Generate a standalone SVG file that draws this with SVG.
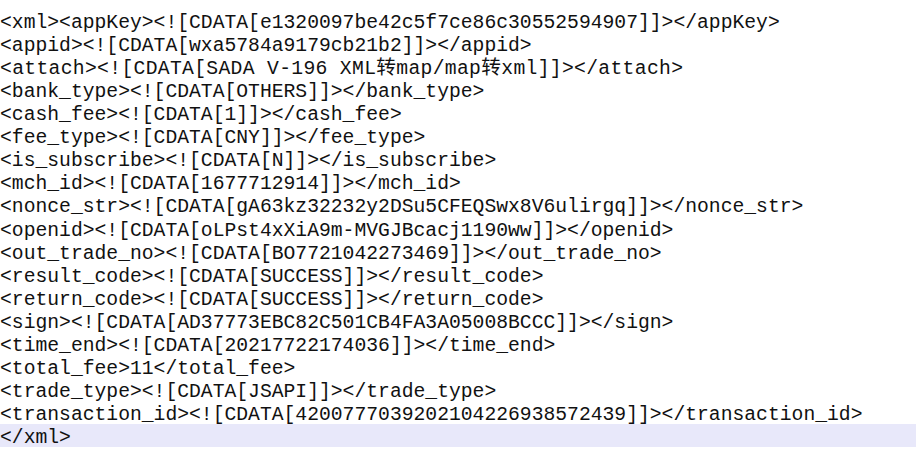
<svg xmlns="http://www.w3.org/2000/svg" width="916" height="462" viewBox="0 0 916 462">
<style>
text{font-family:"Liberation Mono","Noto Sans CJK SC",monospace;font-size:19.7px;fill:#111;white-space:pre}
</style>
<rect width="916" height="462" fill="#fff"/>
<rect x="0" y="424" width="916" height="23" fill="#e8e8fa"/>
<text x="0" y="28">&lt;xml&gt;&lt;appKey&gt;&lt;![CDATA[e1320097be42c5f7ce86c30552594907]]&gt;&lt;/appKey&gt;</text>
<text x="0" y="51.06">&lt;appid&gt;&lt;![CDATA[wxa5784a9179cb21b2]]&gt;&lt;/appid&gt;</text>
<text x="0" y="74.12" textLength="683" lengthAdjust="spacing">&lt;attach&gt;&lt;![CDATA[SADA V-196 XML转map/map转xml]]&gt;&lt;/attach&gt;</text>
<text x="0" y="97.18">&lt;bank_type&gt;&lt;![CDATA[OTHERS]]&gt;&lt;/bank_type&gt;</text>
<text x="0" y="120.24">&lt;cash_fee&gt;&lt;![CDATA[1]]&gt;&lt;/cash_fee&gt;</text>
<text x="0" y="143.3">&lt;fee_type&gt;&lt;![CDATA[CNY]]&gt;&lt;/fee_type&gt;</text>
<text x="0" y="166.36">&lt;is_subscribe&gt;&lt;![CDATA[N]]&gt;&lt;/is_subscribe&gt;</text>
<text x="0" y="189.42">&lt;mch_id&gt;&lt;![CDATA[1677712914]]&gt;&lt;/mch_id&gt;</text>
<text x="0" y="212.48">&lt;nonce_str&gt;&lt;![CDATA[gA63kz32232y2DSu5CFEQSwx8V6ulirgq]]&gt;&lt;/nonce_str&gt;</text>
<text x="0" y="235.54">&lt;openid&gt;&lt;![CDATA[oLPst4xXiA9m-MVGJBcacj1190ww]]&gt;&lt;/openid&gt;</text>
<text x="0" y="258.6">&lt;out_trade_no&gt;&lt;![CDATA[BO7721042273469]]&gt;&lt;/out_trade_no&gt;</text>
<text x="0" y="281.66">&lt;result_code&gt;&lt;![CDATA[SUCCESS]]&gt;&lt;/result_code&gt;</text>
<text x="0" y="304.72">&lt;return_code&gt;&lt;![CDATA[SUCCESS]]&gt;&lt;/return_code&gt;</text>
<text x="0" y="327.78">&lt;sign&gt;&lt;![CDATA[AD37773EBC82C501CB4FA3A05008BCCC]]&gt;&lt;/sign&gt;</text>
<text x="0" y="350.84">&lt;time_end&gt;&lt;![CDATA[20217722174036]]&gt;&lt;/time_end&gt;</text>
<text x="0" y="373.9">&lt;total_fee&gt;11&lt;/total_fee&gt;</text>
<text x="0" y="396.96">&lt;trade_type&gt;&lt;![CDATA[JSAPI]]&gt;&lt;/trade_type&gt;</text>
<text x="0" y="420.02">&lt;transaction_id&gt;&lt;![CDATA[4200777039202104226938572439]]&gt;&lt;/transaction_id&gt;</text>
<text x="0" y="443.08">&lt;/xml&gt;</text>
</svg>
